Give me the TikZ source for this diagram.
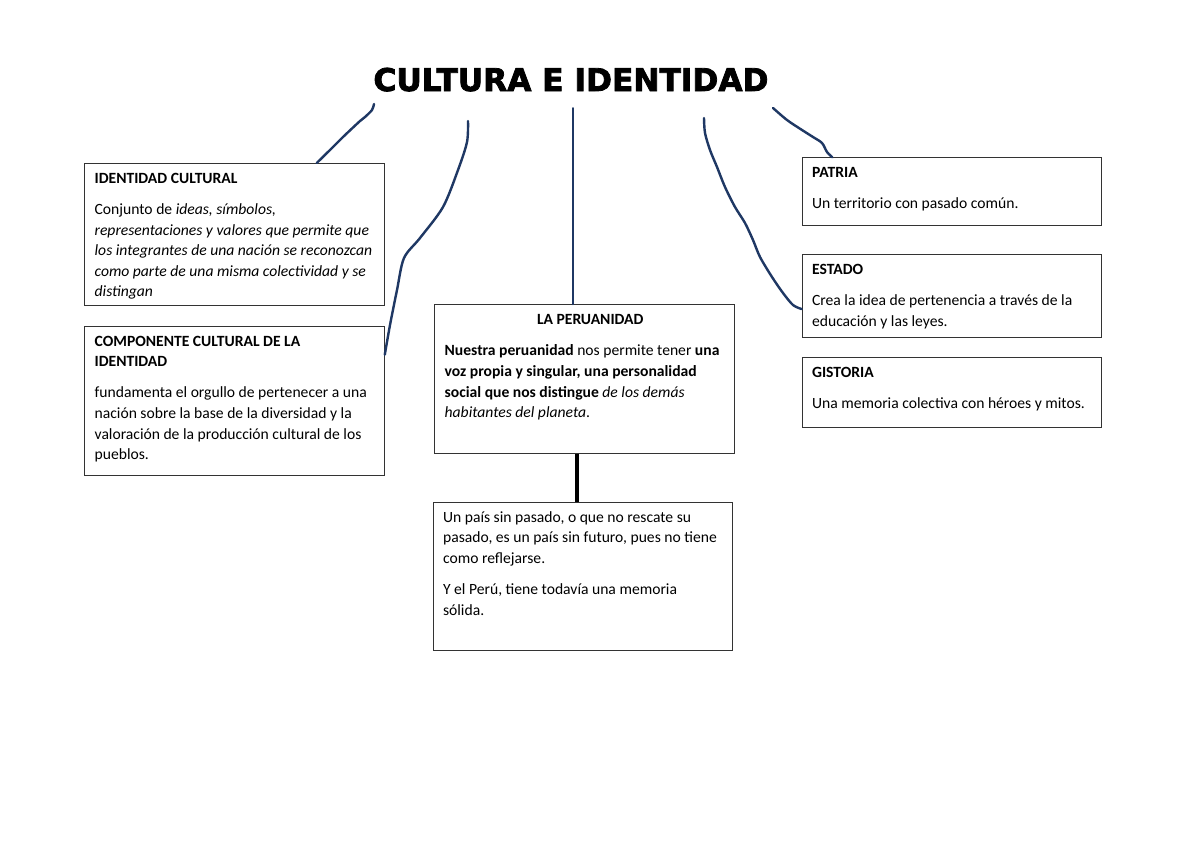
\documentclass[tikz,border=0pt]{standalone}
\usepackage{fontspec}
\setmainfont{Carlito}
\newfontfamily\titlefont{DejaVu Sans}[BoldFeatures={FakeBold=2.5}]
\definecolor{navy}{RGB}{31,56,100}
\newcommand{\blockgap}{\par\vspace{7.5pt}}

\begin{document}
\begin{tikzpicture}[x=0.02475cm, y=-0.02475cm]
        \tikzstyle{every node}=[font=\fontsize{11pt}{14.5pt}\selectfont]
        \tikzset{
            panel/.style={draw=black!80, line width=0.6pt, anchor=north west, align=flush left,
                text width=205pt, inner xsep=3pt, inner ysep=6pt, text height=8pt,
                execute at begin node={\leftskip=4pt}},
            link/.style={draw=navy, line width=1.7pt, line cap=round, line join=round},
            stem/.style={draw=black, line width=2.8pt}
        }
        \path[use as bounding box, fill=white] (0,0) rectangle (1200,849);

        % title
        \node[anchor=base, inner sep=0pt, font=\titlefont\bfseries\fontsize{22pt}{24pt}\selectfont] (title) at (571,91) {CULTURA E IDENTIDAD};

        % left column
        \node[panel, text depth=80pt] (ident) at (84.3,163) {\textbf{IDENTIDAD CULTURAL}\blockgap
            Conjunto de \textit{ideas, símbolos,}\\
            \textit{representaciones y valores que permite que}\\
            \textit{los integrantes de una nación se reconozcan}\\
            \textit{como parte de una misma colectividad y se}\\
            \textit{distingan}};
        \node[panel, text depth=84.9pt] (comp) at (84.3,325.7) {\textbf{COMPONENTE CULTURAL DE LA}\\
            \textbf{IDENTIDAD}\blockgap
            fundamenta el orgullo de pertenecer a una\\
            nación sobre la base de la diversidad y la\\
            valoración de la producción cultural de los\\
            pueblos.};

        % middle column
        \node[panel, text depth=84.5pt] (peru) at (434.3,304.3) {\centerline{\textbf{LA PERUANIDAD}}\blockgap
            \textbf{Nuestra peruanidad} nos permite tener \textbf{una}\\
            \textbf{voz propia y singular, una personalidad}\\
            \textbf{social que nos distingue} \textit{de los demás}\\
            \textit{habitantes del planeta}.};
        \node[panel, text depth=84.4pt] (frase) at (432.7,501.7) {Un país sin pasado, o que no rescate su\\
            pasado, es un país sin futuro, pues no tiene\\
            como reflejarse.\blockgap
            Y el Perú, tiene todavía una memoria\\
            sólida.};

        % right column
        \node[panel, text depth=27.7pt] (patria) at (801.7,157.3) {\textbf{PATRIA}\blockgap
            Un territorio con pasado común.};
        \node[panel, text depth=38.4pt] (estado) at (801.7,254) {\textbf{ESTADO}\blockgap
            Crea la idea de pertenencia a través de la\\
            educación y las leyes.};
        \node[panel, text depth=29.3pt] (historia) at (801.7,357) {\textbf{GISTORIA}\blockgap
            Una memoria colectiva con héroes y mitos.};

        % free ends under the title
        \coordinate (s1) at (374,104);
        \coordinate (s2) at (468,121);
        \coordinate (s3) at (573.3,108);
        \coordinate (s4) at (704,118);
        \coordinate (s5) at (773,108);

        % connectors
        \draw[link] plot[smooth] coordinates {(s1) (372,110) (365,117) (360,121) (343,137) (332,148) (ident.41)};
        \draw[link] plot[smooth] coordinates {(s2) (467,142) (458,170) (443,207) (420,238) (404,258) (397,290) (390,325) (comp.17.5)};
        \draw[link, line width=1.3pt] (s3) -- (s3 |- peru.north);
        \draw[link] plot[smooth] coordinates {(s4) (705,133) (710,150) (717,167) (725,187) (735,207) (745,223) (753,240) (760,257) (772,277) (783,293) (793,305) (estado.185.5)};
        \draw[link] plot[smooth] coordinates {(s5) (787,120) (802,130) (813,137) (822,143) (827,152) (patria.164.4)};
        \draw[stem] (peru.264.8) -- (peru.264.8 |- frase.north);
    \end{tikzpicture}
\end{document}
